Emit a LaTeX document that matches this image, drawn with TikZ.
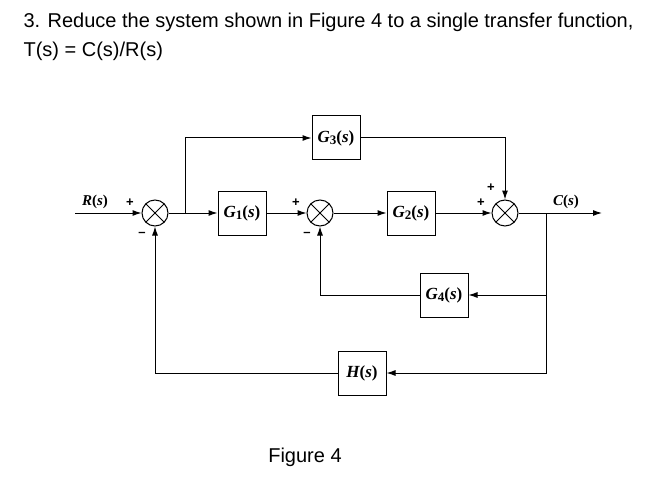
\documentclass[tikz,border=0pt]{standalone}
\usepackage{fontspec}
\setmainfont{Liberation Sans}
\newfontfamily\serf{Liberation Serif}
\usetikzlibrary{arrows.meta}
\newcommand{\blkt}[2]{{\serf\bfseries\itshape #1}{\serf\bfseries\raisebox{-2pt}{\fontsize{13}{13}\selectfont #2}(}{\serf\bfseries\itshape s}{\serf\bfseries )}}
\newcommand{\blku}[1]{{\serf\bfseries\itshape #1}{\serf\bfseries (}{\serf\bfseries\itshape s}{\serf\bfseries )}}
\begin{document}
\begin{tikzpicture}[x=1pt,y=-1pt,
 blk/.style={draw,line width=1pt,minimum width=48pt,minimum height=44pt,inner sep=0pt,font=\fontsize{17}{17}\selectfont},
 sum/.style={draw,line width=1pt,circle,minimum size=26pt,inner sep=0pt,
   path picture={\draw[line width=1pt] (path picture bounding box.north west)--(path picture bounding box.south east) (path picture bounding box.north east)--(path picture bounding box.south west);}},
 sig/.style={line width=1pt,-{Latex[length=9pt,width=6pt]}},
 ln/.style={line width=1pt},
 sg/.style={font=\fontsize{13}{13}\selectfont\bfseries,inner sep=0pt}]
\useasboundingbox (0,0) rectangle (655,481);
\node[anchor=base west,font=\fontsize{20}{20}\selectfont] (t1) at (20,28) {3. Reduce the system shown in Figure 4 to a single transfer function,};
\node[anchor=base west,font=\fontsize{20}{20}\selectfont] (t2) at (20,57) {T(s) = C(s)/R(s)};
\node[font=\fontsize{20}{20}\selectfont] (fig) at (305,457) {Figure 4};

\coordinate (in) at (75,213);
\node[sum] (s1) at (155,213) {};
\coordinate (b1) at (185,213);
\node[blk] (g1) at (242,213) {\blkt{G}{1}};
\node[sum] (s2) at (320,213) {};
\node[blk] (g2) at (411,213) {\blkt{G}{2}};
\node[sum] (s3) at (505,213) {};
\node[blk] (g3) at (336,138) {\blkt{G}{3}};
\coordinate (b2) at (546,213);
\coordinate (out) at (602,213);
\node[blk] (g4) at (444,295) {\blkt{G}{4}};
\node[blk] (h) at (362,373) {\blku{H}};

\node[font=\fontsize{15}{15}\selectfont,anchor=base] (rl) at (95,205) {\blku{R}};
\node[font=\fontsize{15}{15}\selectfont,anchor=base] (cl) at (566,205) {\blku{C}};

\draw[sig] (in) -- (s1);
\draw[ln] (s1) -- (b1);
\draw[sig] (b1) -- (g1);
\draw[sig] (b1) |- (g3);
\draw[sig] (g1) -- (s2);
\draw[sig] (s2) -- (g2);
\draw[sig] (g2) -- (s3);
\draw[sig] (g3) -| (s3);
\draw[sig] (s3) -- (out);
\draw[sig] (b2) |- (g4);
\draw[sig] (b2) |- (h);
\draw[sig] (g4) -| (s2);
\draw[sig] (h) -| (s1);

\node[sg] (p1) at (130,203) {+};
\node[sg] (m1) at (142,234) {–};
\node[sg] (p2) at (296,203) {+};
\node[sg] (m2) at (307,234) {–};
\node[sg] (p3) at (481,203) {+};
\node[sg] (p4) at (491,188) {+};
\end{tikzpicture}
\end{document}
